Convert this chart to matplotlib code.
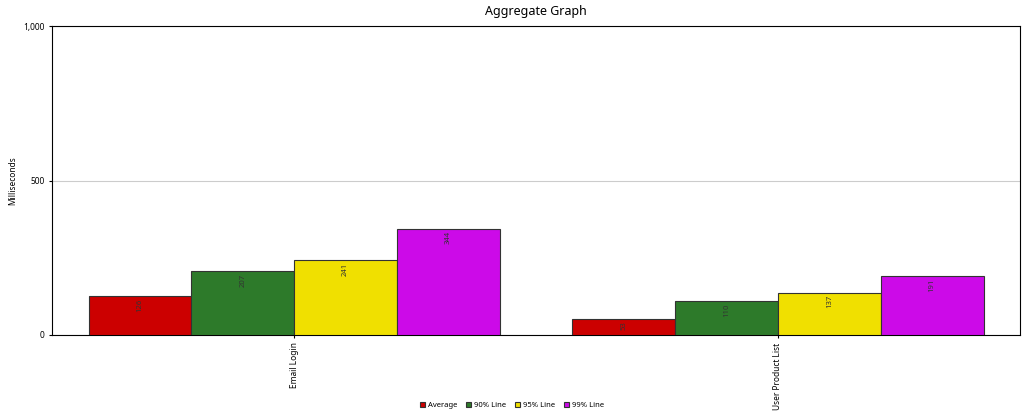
import matplotlib
matplotlib.use("Agg")
import matplotlib.pyplot as plt
import numpy as np

categories = ["Email Login", "User Product List"]
series = ["Average", "90% Line", "95% Line", "99% Line"]
values = {
    "Average": [126, 53],
    "90% Line": [207, 110],
    "95% Line": [241, 137],
    "99% Line": [344, 191],
}
colors = ["#cc0000", "#2d7a2a", "#f0e000", "#cc0ae8"]

plt.rcParams['font.family'] = ['Noto Sans', 'DejaVu Sans']
fig = plt.figure(figsize=(10.24, 4.16), dpi=100)
ax = fig.add_axes([0.051, 0.195, 0.945, 0.742])
x = np.arange(len(categories))
w = 0.2125
for i, (s, c) in enumerate(zip(series, colors)):
    pos = x + (i - 1.5) * w
    bars = ax.bar(pos, values[s], w, color=c, edgecolor="#333333", linewidth=0.8, label=s, zorder=3)
    for xp, v in zip(pos, values[s]):
        ax.text(xp, v - 8, f"{v}", rotation=90, ha="center", va="top", fontsize=5.5, color="#333333", zorder=4)

ax.set_xlim(-0.5, 1.5)
ax.set_ylim(0, 1000)
ax.set_yticks([0, 500, 1000])
ax.set_yticklabels(["0", "500", "1,000"], fontsize=6)
ax.set_xticks(x)
ax.set_xticklabels(categories, rotation=90, fontsize=6)
ax.yaxis.grid(True, color="#cccccc", linewidth=0.8, zorder=0)
ax.set_ylabel("Milliseconds", fontsize=6)
ax.set_title("Aggregate Graph", fontsize=9, fontweight="bold", pad=8)
ax.tick_params(length=2)
fig.legend(loc="lower center", ncol=4, fontsize=5.5, frameon=False, bbox_to_anchor=(0.5, 0.0),
           handlelength=0.6, handleheight=0.6, columnspacing=1.2, handletextpad=0.4)
fig.savefig("out.png")
